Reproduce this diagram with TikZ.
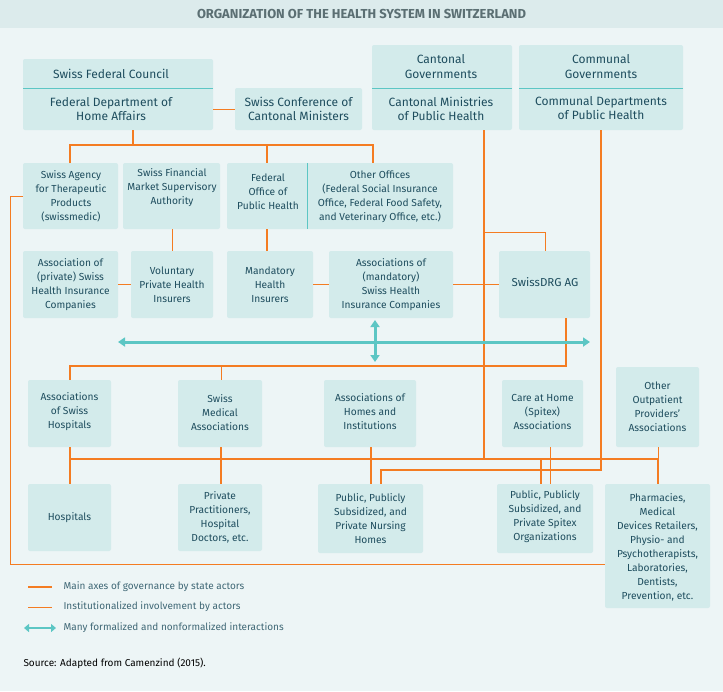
\documentclass[tikz,border=0pt]{standalone}
\usepackage{fontspec}
\setmainfont{Fira Sans}
\usetikzlibrary{arrows.meta}
\definecolor{bg}{HTML}{EDF5F6}
\definecolor{band}{HTML}{DCEBEC}
\definecolor{boxc}{HTML}{D3EBEB}
\definecolor{tx}{HTML}{1E4D5E}
\definecolor{tl}{HTML}{5CC6C4}
\definecolor{orc}{HTML}{F47C22}
\definecolor{ttl}{HTML}{5B6F73}
\tikzset{
 box/.style={fill=boxc,draw=none,rounded corners=2pt,text=tx,align=center,inner sep=1pt,font=\fontsize{10.2}{14}\selectfont},
 big/.style={font=\fontsize{12}{14.5}\selectfont},
 gthick/.style={draw=orc,line width=2.2pt},
 gthin/.style={draw=orc,line width=1pt},
 dv/.style={draw=tl,line width=1pt},
 ia/.style={draw=tl,line width=3pt,{Triangle[length=7pt,width=9pt]}-{Triangle[length=7pt,width=9pt]}},
}
\newcommand{\bx}[6]{\node[#6,minimum width=#4-#2,minimum height=#5-#3] (#1) at ({(#2+#4)/2},{(#3+#5)/2}) {};}
\begin{document}
\begin{tikzpicture}[x=1pt,y=-1pt]
\fill[bg] (0,0) rectangle (723,691);
\useasboundingbox (0,0) rectangle (723,691);
\fill[band] (0,0) rectangle (723,28);
\node[text=ttl,font=\bfseries\fontsize{13}{15}\selectfont] (title) at (361.5,14) {ORGANIZATION OF THE HEALTH SYSTEM IN SWITZERLAND};
% top boxes
\fill[boxc,rounded corners=2pt] (23,59) rectangle (213,130);
\node[box,big,fill=none] (fc) at (111,73.5) {Swiss Federal Council};
\node[box,big,fill=none] (fdha) at (111,109) {Federal Department of\\Home Affairs};
\draw[dv] (23,88) -- (213,88);
\bx{scc}{235}{88}{362}{130}{box}
\node[box,big,fill=none] at (scc) {Swiss Conference of\\Cantonal Ministers};
\fill[boxc,rounded corners=2pt] (372,45) rectangle (512,130);
\node[box,big,fill=none] (cg) at (441,66.5) {Cantonal\\Governments};
\node[box,big,fill=none] (cm) at (441,109) {Cantonal Ministries\\of Public Health};
\draw[dv] (372,88) -- (512,88);
\fill[boxc,rounded corners=2pt] (519,45) rectangle (683,130);
\node[box,big,fill=none] (cog) at (601,66.5) {Communal\\Governments};
\node[box,big,fill=none] (cd) at (601,108) {Communal Departments\\of Public Health};
\draw[dv] (519,88) -- (683,88);
% row2
\bx{sm}{23}{163}{118}{229}{box}\node[box,fill=none] at (71,196) {Swiss Agency\\for Therapeutic\\Products\\(swissmedic)};
\bx{fm}{123}{163}{220}{229}{box}\node[box,fill=none] at (172,188) {Swiss Financial\\Market Supervisory\\Authority};
\fill[boxc,rounded corners=2pt] (227,163) rectangle (453,229);
\node[box,fill=none] (foph) at (268,192) {Federal\\Office of\\Public Health};
\node[box,fill=none] (oo) at (380,197) {Other Offices\\(Federal Social Insurance\\Office, Federal Food Safety,\\and Veterinary Office, etc.)};
\draw[tl,line width=0.8pt] (307,163) -- (307,229);
% row3
\bx{ap}{23}{251}{118}{318}{box}\node[box,fill=none] at (ap) {Association of\\(private) Swiss\\Health Insurance\\Companies};
\bx{vp}{131}{251}{213}{318}{box}\node[box,fill=none] at (vp) {Voluntary\\Private Health\\Insurers};
\bx{mh}{227}{251}{313}{318}{box}\node[box,fill=none] at (mh) {Mandatory\\Health\\Insurers};
\bx{am}{329}{251}{453}{318}{box}\node[box,fill=none] at (am) {Associations of\\(mandatory)\\Swiss Health\\Insurance Companies};
\bx{drg}{499}{251}{590}{318}{box}\node[box,fill=none,font=\fontsize{11.5}{13}\selectfont] at (545,282) {SwissDRG AG};
% row4
\bx{ah}{28}{380}{111}{447}{box}\node[box,fill=none] at (69.5,412) {Associations\\of Swiss\\Hospitals};
\bx{ma}{178}{380}{262}{447}{box}\node[box,fill=none] at (220,413) {Swiss\\Medical\\Associations};
\bx{hi}{324}{380}{416}{447}{box}\node[box,fill=none] at (370,412) {Associations of\\Homes and\\Institutions};
\bx{sa}{502}{380}{583}{447}{box}\node[box,fill=none] at (542.5,412) {Care at Home\\(Spitex)\\Associations};
\bx{op}{616}{367}{699}{447}{box}\node[box,fill=none] at (657.5,407) {Other\\Outpatient\\Providers’\\Associations};
% row5
\bx{ho}{28}{484}{111}{551}{box}\node[box,fill=none] at (ho) {Hospitals};
\bx{pp}{178}{484}{262}{551}{box}\node[box,fill=none] at (pp) {Private\\Practitioners,\\Hospital\\Doctors, etc.};
\bx{nh}{318}{484}{423}{553}{box}\node[box,fill=none] at (370.5,519) {Public, Publicly\\Subsidized, and\\Private Nursing\\Homes};
\bx{so}{497}{484}{593}{553}{box}\node[box,fill=none] at (545,517) {Public, Publicly\\Subsidized, and\\Private Spitex\\Organizations};
\bx{ph}{605}{484}{710}{608}{box}\node[box,fill=none] at (657.5,547) {Pharmacies,\\Medical\\Devices Retailers,\\Physio- and\\Psychotherapists,\\Laboratories,\\Dentists,\\Prevention, etc.};
% connectors thick
\draw[gthick] (133,130) -- (133,145);
\draw[gthick] (70,163) -- (70,145) -- (373,145) -- (373,163);
\draw[gthick] (267,145) -- (267,163);
\draw[gthick] (267,229) -- (267,251);
\draw[gthick] (566,318) -- (566,366) -- (70,366) -- (70,380);
\draw[gthick] (484,130) -- (484,459);
\draw[gthick] (70,459) -- (658,459);
\draw[gthick] (601,130) -- (601,470) -- (381,470) -- (381,484);
\draw[gthick] (70,447) -- (70,484);
\draw[gthick] (221,447) -- (221,484);
\draw[gthick] (371,447) -- (371,484);
\draw[gthick] (541,459) -- (541,484);
\draw[gthick] (658,459) -- (658,484);
% thin
\draw[gthin] (213,109) -- (235,109);
\draw[gthin] (172,229) -- (172,251);
\draw[gthin] (118,284) -- (131,284);
\draw[gthin] (313,284) -- (329,284);
\draw[gthin] (453,284) -- (499,284);
\draw[gthin] (484,232) -- (545,232) -- (545,251);
\draw[gthin] (221,366) -- (221,380);
\draw[gthin] (550,447) -- (550,484);
\draw[gthin] (658,447) -- (658,459);
\draw[gthin] (23,196) -- (10,196) -- (10,564) -- (605,564);
% interactions
\draw[ia] (118,342) -- (590,342);
\draw[ia] (375,320) -- (375,362);
% legend
\draw[gthick] (28,587) -- (52,587);
\node[anchor=west,text=tx!85,font=\fontsize{10}{12}\selectfont] (l1) at (60,587) {Main axes of governance by state actors};
\draw[gthin] (28,607) -- (52,607);
\node[anchor=west,text=tx!85,font=\fontsize{10}{12}\selectfont] (l2) at (60,607) {Institutionalized involvement by actors};
\draw[ia,line width=2.5pt,{Triangle[length=5pt,width=8pt]}-{Triangle[length=5pt,width=8pt]}] (24,628) -- (56,628);
\node[anchor=west,text=tx!85,font=\fontsize{10}{12}\selectfont] (l3) at (60,628) {Many formalized and nonformalized interactions};
\node[anchor=west,text=black,font=\fontsize{10}{12}\selectfont] (src) at (20,663) {Source: Adapted from Camenzind (2015).};
\end{tikzpicture}
\end{document}
